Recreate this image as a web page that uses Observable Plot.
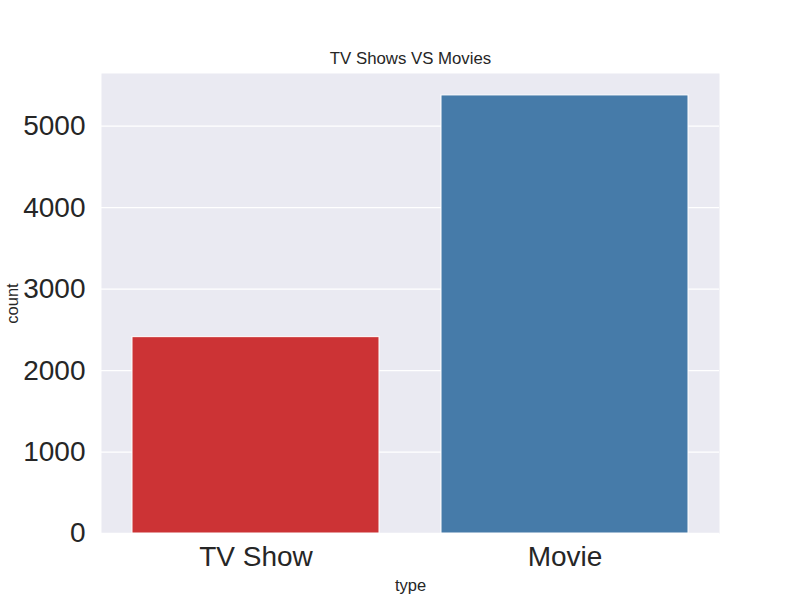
<!DOCTYPE html>
<html>
<head>
<meta charset="utf-8">
<script src="https://cdn.jsdelivr.net/npm/d3@7"></script>
<script src="https://cdn.jsdelivr.net/npm/@observablehq/plot@0.6"></script>
<style>
  html, body { margin: 0; padding: 0; background: #ffffff; }
  svg { font-family: "Liberation Sans", Arial, sans-serif; }
</style>
</head>
<body>
<div id="chart"></div>
<script>
const types = ["TV Show", "Movie"];
const counts = [2410, 5377];
const colors = ["#cc3335", "#467ba9"];
const yTicks = [0, 1000, 2000, 3000, 4000, 5000];
const titleText = "TV Shows VS Movies";
const xLabel = "type";
const yLabel = "count";

const data = types.map((t, i) => ({type: t, count: counts[i], color: colors[i]}));

const chart = Plot.plot({
  width: 800,
  height: 600,
  marginLeft: 101,
  marginRight: 81,
  marginTop: 73,
  marginBottom: 67,
  style: {fontFamily: "'Liberation Sans', Arial, sans-serif", color: "#262626", background: "#ffffff"},
  x: {domain: types, paddingInner: 0.2, paddingOuter: 0.1, label: null},
  y: {domain: [0, 5646], label: null},
  marks: [
    Plot.frame({fill: "#eaeaf2", stroke: null}),
    Plot.gridY(yTicks, {stroke: "#ffffff", strokeOpacity: 1, strokeWidth: 1.3}),
    Plot.barY(data, {x: "type", y: "count", fill: "color", stroke: "#ffffff", strokeWidth: 1}),
    Plot.axisY(yTicks, {tickSize: 0, tickPadding: 16, fontSize: 28, label: null, fill: "#262626", tickFormat: d3.format("d")}),
    Plot.axisX({tickSize: 0, tickPadding: 13, fontSize: 28, label: null, fill: "#262626"}),
    Plot.text([titleText], {frameAnchor: "top", dy: -15, fontSize: 16.8, fill: "#262626", lineAnchor: "middle", textAnchor: "middle"}),
    Plot.text([xLabel], {frameAnchor: "bottom", dy: 52, fontSize: 16.5, fill: "#262626", lineAnchor: "middle", textAnchor: "middle"}),
    Plot.text([yLabel], {frameAnchor: "left", dx: -89, rotate: -90, fontSize: 16.5, fill: "#262626", lineAnchor: "middle", textAnchor: "middle"})
  ]
});
document.getElementById("chart").appendChild(chart);
</script>
</body>
</html>
